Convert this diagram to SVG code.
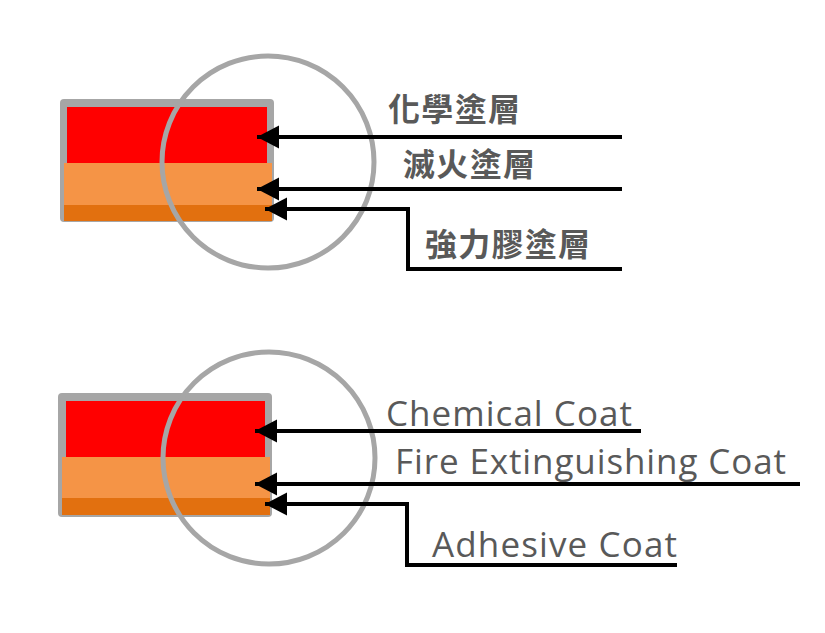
<svg xmlns="http://www.w3.org/2000/svg" width="825" height="633" viewBox="0 0 825 633">
<style>
.frame{fill:#a6a6a6}
.red{fill:#ff0000}
.org{fill:#f59446}
.dk{fill:#e2700f}
.ring{fill:none;stroke:#a6a6a6;stroke-width:5}
.ln{fill:none;stroke:#000;stroke-width:4}
.cjk{font-family:"Noto Sans CJK TC","Noto Sans CJK SC",sans-serif;font-weight:bold;font-size:32px;fill:#595959}
.en{font-family:"Open Sans","Noto Sans",sans-serif;font-size:35px;fill:#595959}
</style>
<defs>
<marker id="ah" markerWidth="5.5" markerHeight="5.8" refX="5.5" refY="2.9" orient="auto" markerUnits="strokeWidth">
<path d="M0,0 L5.5,2.9 L0,5.8 Z" fill="#000"/>
</marker>
</defs>
<rect width="825" height="633" fill="#fff"/>
<g id="top-block">
<rect class="frame" x="60" y="99" width="214" height="123" rx="4"/>
<rect class="red" x="67" y="107" width="200" height="56"/>
<rect class="org" x="64" y="163" width="208" height="42"/>
<rect class="dk" x="64" y="205" width="208" height="16"/>
<circle class="ring" cx="268" cy="162" r="106"/>
</g>
<g id="bottom-block">
<rect class="frame" x="58" y="393" width="214" height="124" rx="4"/>
<rect class="red" x="66" y="401" width="199" height="56"/>
<rect class="org" x="62" y="457" width="208" height="41"/>
<rect class="dk" x="62" y="498" width="208" height="17"/>
<circle class="ring" cx="269" cy="458" r="106"/>
</g>
<g id="connectors">
<path class="ln" d="M622,137 H257" marker-end="url(#ah)"/>
<path class="ln" d="M622,189 H257" marker-end="url(#ah)"/>
<path class="ln" d="M622,269 H408 V209 H265" marker-end="url(#ah)"/>
<path class="ln" d="M641,431 H255" marker-end="url(#ah)"/>
<path class="ln" d="M800,484 H255" marker-end="url(#ah)"/>
<path class="ln" d="M677,565 H407 V504 H265" marker-end="url(#ah)"/>
</g>
<g id="labels-cjk">
<text class="cjk" x="388" y="121" textLength="132">化學塗層</text>
<text class="cjk" x="403" y="176" textLength="132">滅火塗層</text>
<text class="cjk" x="425" y="256" textLength="165">強力膠塗層</text>
</g>
<g id="labels-en">
<text class="en" x="386" y="426" textLength="246">Chemical Coat</text>
<text class="en" x="395" y="474" textLength="391">Fire Extinguishing Coat</text>
<text class="en" x="432" y="557" textLength="245">Adhesive Coat</text>
</g>
</svg>
